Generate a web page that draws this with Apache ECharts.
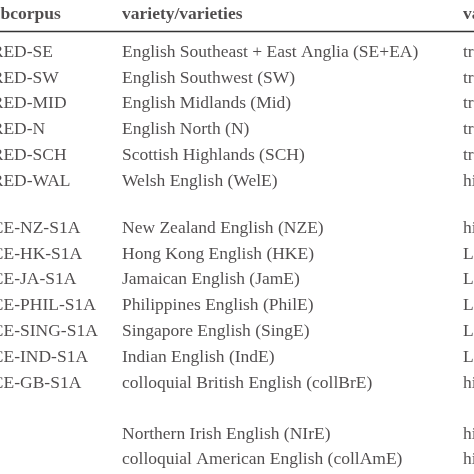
<!DOCTYPE html>
<html>
<head>
<meta charset="utf-8">
<script src="https://cdn.jsdelivr.net/npm/echarts@6/dist/echarts.min.js"></script>
<style>html,body{margin:0;padding:0;background:#fff}#chart{width:474px;height:474px}</style>
</head>
<body>
<div id="chart"></div>
<script>
// table contents, left part of the columns is cut off in the reference
const headers = ['subcorpus', 'variety/varieties', 'variety type']
const subcorpora = ['FRED-SE', 'FRED-SW', 'FRED-MID', 'FRED-N', 'FRED-SCH', 'FRED-WAL',
  'ICE-NZ-S1A', 'ICE-HK-S1A', 'ICE-JA-S1A', 'ICE-PHIL-S1A', 'ICE-SING-S1A', 'ICE-IND-S1A', 'ICE-GB-S1A', '', '']
const varieties = ['English Southeast + East Anglia (SE+EA)', 'English Southwest (SW)',
  'English Midlands (Mid)', 'English North (N)', 'Scottish Highlands (SCH)', 'Welsh English (WelE)',
  'New Zealand English (NZE)', 'Hong Kong English (HKE)', 'Jamaican English (JamE)',
  'Philippines English (PhilE)', 'Singapore English (SingE)', 'Indian English (IndE)',
  'colloquial British English (collBrE)', 'Northern Irish English (NIrE)',
  'colloquial American English (collAmE)']
const types = ['traditional', 'traditional', 'traditional', 'traditional', 'traditional', 'high',
  'high', 'L2', 'L2', 'L2', 'L2', 'L2', 'high', 'high', 'high']
const rowSlots = [1.47, 2.47, 3.47, 4.47, 5.47, 6.47, 8.28, 9.28, 10.28, 11.28, 12.28, 13.28, 14.28, 16.25, 17.25]

const colX = [-18, 122, 463]
const subX = s => s.startsWith('ICE') ? -14 : -18

const cells = []
rowSlots.forEach((y, i) => {
  if (subcorpora[i]) cells.push([subX(subcorpora[i]), y, subcorpora[i]])
  cells.push([colX[1], y, varieties[i]])
  cells.push([colX[2], y, types[i]])
})
const headCells = [[-16, 0, headers[0]], [colX[1], 0, headers[1]], [colX[2], 0, headers[2]]]

const font = { fontFamily: 'Liberation Serif', fontSize: 17.5, color: '#231f20' }

const chart = echarts.init(document.getElementById('chart'))
chart.setOption({
  animation: false,
  grid: { left: 0, right: 0, top: 0, bottom: 0 },
  xAxis: { type: 'value', min: 0, max: 474, show: false },
  yAxis: { type: 'value', min: -0.55, max: 17.8, inverse: true, show: false },
  series: [
    {
      type: 'scatter', symbolSize: 0, clip: false, data: cells,
      label: { show: true, position: 'right', distance: 0, formatter: p => p.data[2], ...font },
      markLine: {
        silent: true, symbol: 'none', label: { show: false },
        lineStyle: { color: '#333', width: 1.3, type: 'solid' },
        data: [{ yAxis: 0.65 }]
      }
    },
    {
      type: 'scatter', symbolSize: 0, clip: false, data: headCells,
      label: { show: true, position: 'right', distance: 0, formatter: p => p.data[2], ...font, fontWeight: 'bold' }
    }
  ]
})
</script>
</body>
</html>
